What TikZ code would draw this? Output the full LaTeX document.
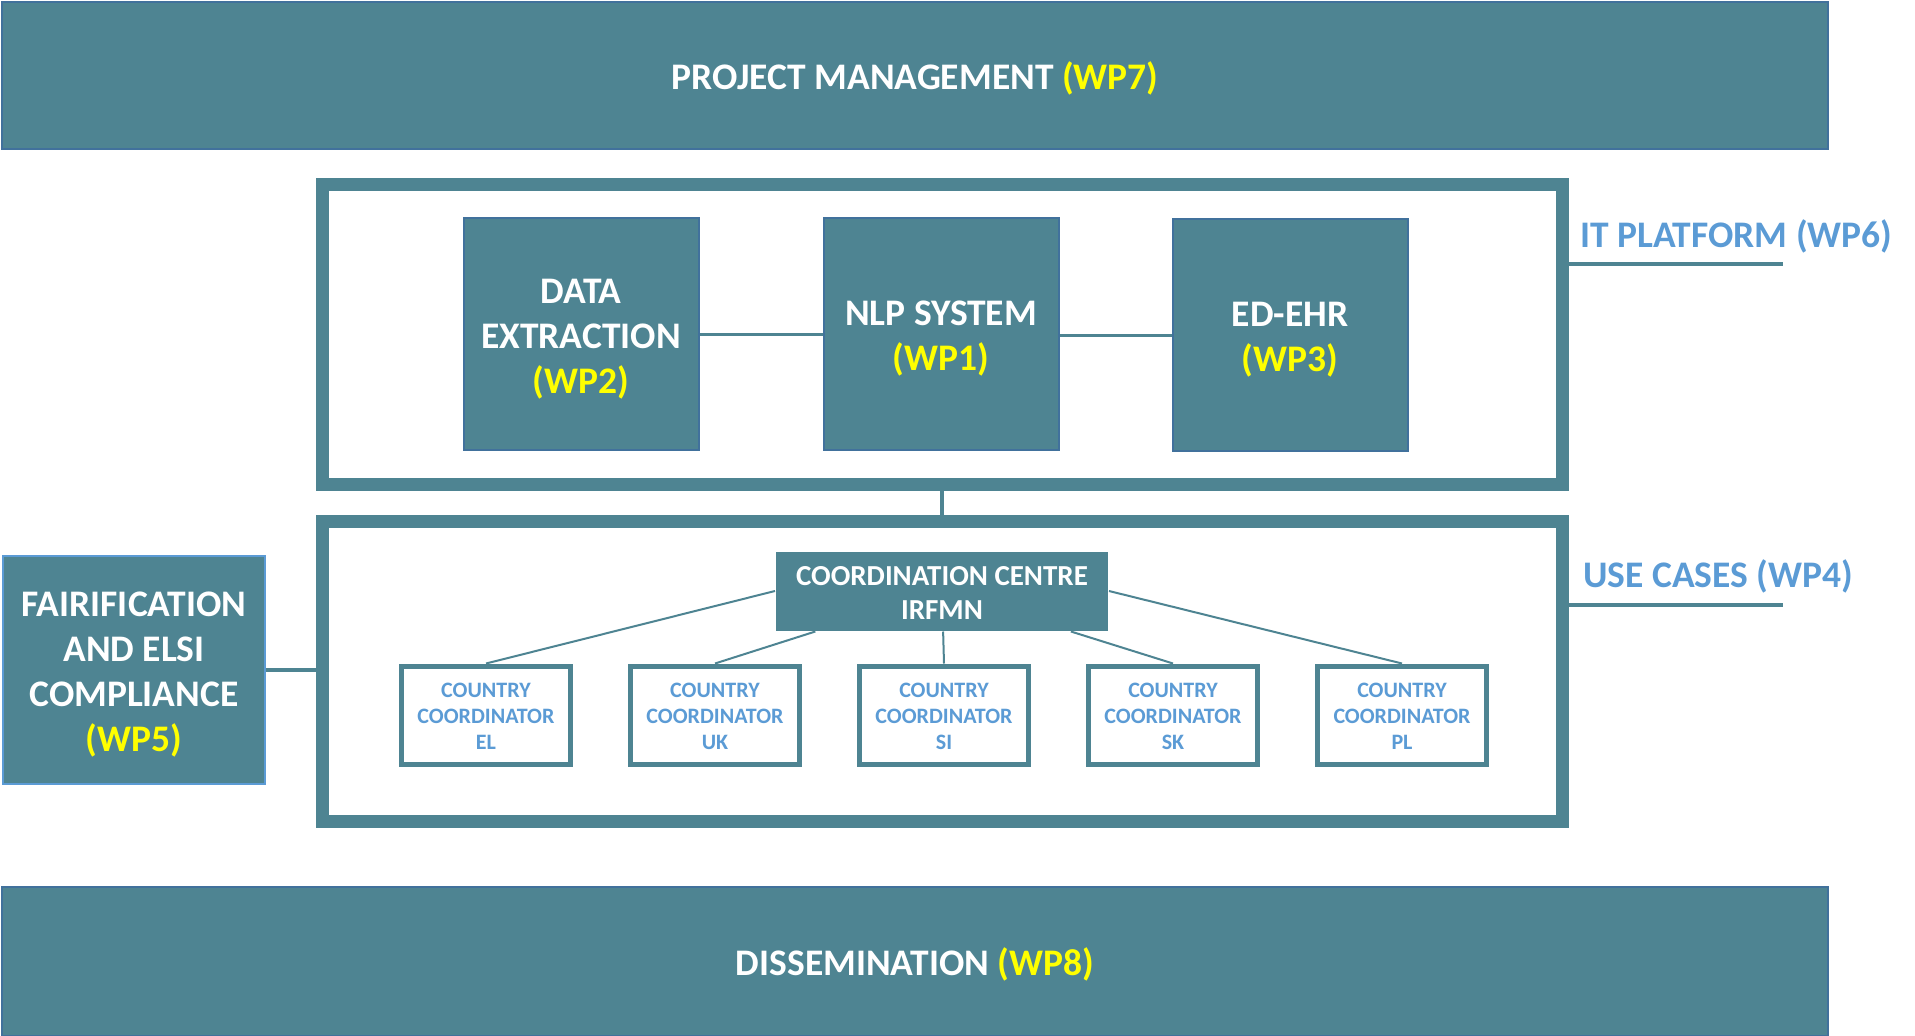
\documentclass[tikz,border=0pt]{standalone}
\usepackage{fontspec}
\setmainfont{Carlito}
\definecolor{wpteal}{RGB}{78,132,146}
\definecolor{wpedge}{RGB}{65,113,156}
\definecolor{wpblue}{RGB}{91,155,213}
\definecolor{wpyellow}{RGB}{255,255,0}
\newcommand{\wpno}[1]{\textcolor{wpyellow}{#1}}
\newcommand{\wptop}{\rule{0pt}{1.012em}}
\newcommand{\wpbot}{\rule[-0.25em]{0pt}{0.25em}}
\begin{document}
\begin{tikzpicture}[x=1pt, y=-1pt,
    wpbox/.style={fill=wpteal, draw=wpedge, line width=2pt, text=white, align=center, inner sep=0pt,
        font=\bfseries\fontsize{37.5}{45}\selectfont},
    wpframe/.style={draw=wpteal, line width=13pt, inner sep=0pt, minimum width=1240pt, minimum height=300pt},
    cbox/.style={draw=wpteal, line width=5pt, fill=white, text=wpblue, align=center, inner sep=0pt,
        minimum width=169pt, minimum height=98pt, font=\bfseries\fontsize{22}{26}\selectfont},
    joinline/.style={draw=wpteal, line width=3pt},
    spoke/.style={draw=wpteal, line width=2pt},
    sidelabel/.style={text=wpblue, anchor=west, inner sep=0pt, font=\bfseries\fontsize{37.5}{45}\selectfont}]
    \useasboundingbox (0,0) rectangle (1915,1036);

    % top and bottom bars
    \node[wpbox, minimum width=1826pt, minimum height=147pt] (pm) at (915,75) {\wptop PROJECT MANAGEMENT \wpno{(WP7)}\wpbot};
    \node[wpbox, minimum width=1826pt, minimum height=149pt] (dis) at (915,961) {\wptop DISSEMINATION \wpno{(WP8)}\wpbot};

    % IT platform
    \node[wpframe] (itp) at (942,334) {};
    \node[wpbox, minimum width=235pt, minimum height=232pt] (de) at (581,334) {\wptop DATA\\EXTRACTION\\\wpno{(WP2)}\wpbot};
    \node[wpbox, minimum width=235pt, minimum height=232pt] (nlp) at (941,334) {\wptop NLP SYSTEM\\\wpno{(WP1)}\wpbot};
    \node[wpbox, minimum width=235pt, minimum height=232pt] (ehr) at (1290,335) {\wptop ED-EHR\\\wpno{(WP3)}\wpbot};
    \draw[joinline] (de) -- (nlp);
    \draw[joinline] (nlp.east |- ehr.west) -- (ehr.west);

    % use cases
    \node[wpframe] (uc) at (942,671) {};
    \draw[joinline, line width=4pt] (itp.south) -- (uc.north);
    \node[wpbox, draw=none, minimum width=332pt, minimum height=79pt,
        font=\bfseries\fontsize{29}{34}\selectfont] (cc) at (942,591) {\wptop COORDINATION CENTRE\\IRFMN\wpbot};
    \node[cbox] (el) at (486,715) {\wptop COUNTRY\\COORDINATOR\\EL\wpbot};
    \node[cbox] (uk) at (715,715) {\wptop COUNTRY\\COORDINATOR\\UK\wpbot};
    \node[cbox] (si) at (944,715) {\wptop COUNTRY\\COORDINATOR\\SI\wpbot};
    \node[cbox] (sk) at (1173,715) {\wptop COUNTRY\\COORDINATOR\\SK\wpbot};
    \node[cbox] (pl) at (1402,715) {\wptop COUNTRY\\COORDINATOR\\PL\wpbot};
    \draw[spoke] (el.north) -- (cc.west);
    \draw[spoke] (uk.north) -- (cc);
    \draw[spoke] (si.north) -- (cc);
    \draw[spoke] (sk.north) -- (cc);
    \draw[spoke] (pl.north) -- (cc.east);

    % fairification
    \node[wpbox, draw=wpblue, minimum width=262pt, minimum height=228pt] (fair) at (134,670) {\wptop FAIRIFICATION\\AND ELSI\\COMPLIANCE\\\wpno{(WP5)}\wpbot};
    \draw[joinline, line width=4pt] (fair.east) -- (uc.west |- fair.east);

    % side labels
    \node[sidelabel] (itlab) at (1580,233) {\wptop IT PLATFORM (WP6)\wpbot};
    \node[sidelabel] (uclab) at (1583,573) {\wptop USE CASES (WP4)\wpbot};
    \coordinate (itend) at (1783,264);
    \coordinate (ucend) at (1783,605);
    \draw[joinline, line width=4pt] (itp.east |- itend) -- (itend);
    \draw[joinline, line width=4pt] (uc.east |- ucend) -- (ucend);
\end{tikzpicture}
\end{document}
